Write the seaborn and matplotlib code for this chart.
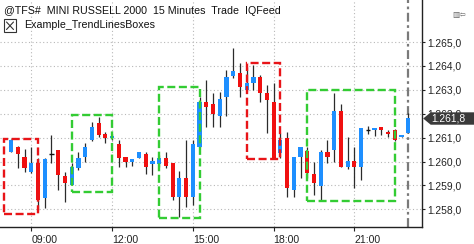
import numpy as np
import pandas as pd
import matplotlib
matplotlib.use("Agg")
import matplotlib.pyplot as plt
import matplotlib.transforms as mtransforms
from matplotlib.patches import Rectangle, Polygon
from matplotlib.lines import Line2D
from matplotlib.ticker import FuncFormatter
import seaborn as sns

# ---------------- data ----------------
opens = [1260.40, 1260.61, 1260.19, 1259.56, 1259.94, 1258.47, 1260.31, 1260.48, 1259.39, 1259.02,
         1259.73, 1260.19, 1260.90, 1261.61, 1261.15, 1260.98, 1260.73, 1260.19, 1259.98, 1260.15,
         1260.31, 1259.90, 1259.90, 1260.15, 1259.94, 1258.51, 1259.31, 1258.51, 1260.61, 1262.49,
         1262.41, 1261.90, 1262.70, 1263.58, 1263.70, 1262.99, 1263.28, 1263.54, 1262.87, 1262.49,
         1260.36, 1260.98, 1258.81, 1260.19, 1260.44, 1259.48, 1258.98, 1260.40, 1260.48, 1262.11,
         1259.77, 1260.02, 1259.77, 1261.32, 1261.32, 1261.44, 1261.23, 1261.32, 1261.02, 1261.19]
highs = [1260.95, 1260.65, 1260.52, 1260.61, 1260.15, 1260.15, 1261.11, 1260.50, 1259.56, 1259.94,
         1260.40, 1260.77, 1261.65, 1261.86, 1261.23, 1261.15, 1260.90, 1260.19, 1260.10, 1260.40,
         1260.40, 1260.19, 1260.27, 1260.40, 1259.94, 1259.60, 1260.90, 1260.90, 1262.70, 1263.41,
         1262.87, 1262.91, 1263.83, 1264.75, 1264.12, 1263.95, 1264.04, 1263.62, 1263.20, 1263.28,
         1261.19, 1261.23, 1260.19, 1260.61, 1260.61, 1259.98, 1260.48, 1260.90, 1262.87, 1262.41,
         1261.02, 1260.61, 1261.40, 1261.48, 1261.40, 1261.44, 1261.32, 1261.36, 1261.11, 1262.03]
lows = [1260.38, 1259.73, 1259.56, 1259.52, 1257.97, 1258.05, 1259.94, 1258.81, 1258.31, 1259.00,
        1259.65, 1259.98, 1260.86, 1261.02, 1260.77, 1260.90, 1259.77, 1259.77, 1259.81, 1260.15,
        1259.48, 1259.44, 1259.77, 1259.73, 1258.39, 1257.68, 1258.10, 1258.18, 1260.61, 1261.44,
        1261.44, 1261.44, 1261.90, 1263.49, 1262.70, 1262.95, 1262.99, 1262.49, 1261.19, 1260.15,
        1260.15, 1258.51, 1258.51, 1259.31, 1259.31, 1258.60, 1258.35, 1259.94, 1259.98, 1259.77,
        1259.69, 1258.89, 1259.23, 1261.15, 1261.07, 1261.11, 1261.02, 1260.86, 1261.02, 1261.19]
closes = [1260.90, 1260.31, 1259.73, 1259.94, 1258.39, 1260.10, 1260.31, 1259.44, 1259.10, 1259.77,
          1260.15, 1260.61, 1261.44, 1261.11, 1260.98, 1261.02, 1260.15, 1259.98, 1260.10, 1260.40,
          1259.77, 1260.02, 1260.15, 1259.81, 1258.51, 1259.31, 1258.51, 1260.73, 1262.49, 1262.28,
          1261.99, 1262.62, 1263.54, 1263.79, 1263.12, 1263.28, 1263.54, 1262.87, 1262.57, 1260.15,
          1260.90, 1258.89, 1260.19, 1260.61, 1259.52, 1259.10, 1260.40, 1260.19, 1262.11, 1259.77,
          1260.02, 1259.77, 1261.40, 1261.32, 1261.40, 1261.32, 1261.15, 1260.90, 1261.11, 1261.82]
first_bar_time = "08:15"
tick_labels = ["09:00", "12:00", "15:00", "18:00", "21:00"]
price_ticks = [1258.0, 1259.0, 1260.0, 1261.0, 1262.0, 1263.0, 1264.0, 1265.0]

box_start = ["08:00", "10:30", "13:45", "17:00", "19:15"]
box_end = ["09:15", "12:00", "15:15", "18:15", "22:30"]
box_top = [1260.93, 1261.95, 1263.10, 1264.11, 1262.99]
box_bottom = [1257.82, 1258.71, 1257.62, 1260.10, 1258.35]
box_kind = ["red", "green", "green", "red", "green"]

last_price = 1261.8
title = "@TFS#  MINI RUSSELL 2000  15 Minutes  Trade  IQFeed"
study_name = "Example_TrendLinesBoxes"

# ---------------- style ----------------
sns.set_theme(style="white")
plt.rcParams["font.family"] = ["Liberation Sans", "DejaVu Sans"]

W, H = 474, 244
fig = plt.figure(figsize=(W / 100, H / 100), dpi=100)
ax_right_px = 421.7
ax_bottom_px = 227
ax = fig.add_axes([0, 1 - ax_bottom_px / H, ax_right_px / W, ax_bottom_px / H])

day = "2015-01-05 "
t0 = pd.Timestamp(day + first_bar_time)
df = pd.DataFrame({"open": opens, "high": highs, "low": lows, "close": closes})
df["time"] = pd.date_range(t0, periods=len(df), freq="15min")
df["x"] = (df["time"] - t0) / pd.Timedelta("15min")

def tpos(s):
    return (pd.Timestamp(day + s) - t0) / pd.Timedelta("15min")

BLUE = "#1e8fff"
RED = "#f01010"
GREEN = "#33cc33"
BOXRED = "#e81418"
WICK = "#2b2b2b"

# wicks
ax.vlines(df["x"], df["low"], df["high"], color=WICK, lw=0.9, zorder=2)
# bodies
up = df["close"] > df["open"]
down = df["close"] < df["open"]
flat = df["close"] == df["open"]
body_w = 0.62
minh = 0.07
for mask, col in [(up, BLUE), (down, RED)]:
    sub = df[mask]
    bottom = np.minimum(sub["open"], sub["close"])
    height = np.maximum(np.abs(sub["close"] - sub["open"]), minh)
    ax.bar(sub["x"], height, bottom=bottom, width=body_w, color=col,
           edgecolor=col, linewidth=0, zorder=3)
sub = df[flat]
ax.hlines(sub["close"], sub["x"] - body_w / 2, sub["x"] + body_w / 2, color="#111111", lw=1.0, zorder=3)

# boxes
for s, e, top, bot, kind in zip(box_start, box_end, box_top, box_bottom, box_kind):
    col = GREEN if kind == "green" else BOXRED
    x0, x1 = tpos(s), tpos(e)
    ax.add_patch(Rectangle((x0, bot), x1 - x0, top - bot, fill=False, edgecolor=col,
                           lw=1.7, linestyle=(0, (3.4, 1.5)), zorder=4, clip_on=False))

# current bar dashed line
ax.axvline(df["x"].iloc[-1], color="#7a7a7a", lw=1.6, linestyle=(0, (4, 1.6, 1.2, 1.6)), zorder=1)

# axes limits
ax.set_xlim(-1.65, 61.0)
ax.set_ylim(1257.26, 1266.76)

# ticks
tick_pos = [df.loc[df["time"].dt.strftime("%H:%M") == lab, "x"].iloc[0] for lab in tick_labels]
ax.set_xticks(tick_pos)
ax.set_xticklabels(tick_labels, fontsize=7.6, color="#222222", ha="left")
offset = mtransforms.ScaledTranslation(2 / 100, 0, fig.dpi_scale_trans)
for lab in ax.get_xticklabels():
    lab.set_transform(lab.get_transform() + offset)

ax.yaxis.tick_right()
ax.set_yticks(price_ticks)
def fmt(v, pos):
    s = f"{v:,.1f}"
    return s.replace(",", "X").replace(".", ",").replace("X", ".")
ax.yaxis.set_major_formatter(FuncFormatter(fmt))
ax.tick_params(axis="y", labelsize=7.4, colors="#222222", length=2.5, width=0.8, pad=1.5,
               direction="out", right=True, left=False)
ax.tick_params(axis="x", length=3, width=0.8, pad=3, direction="out", bottom=True, colors="#222222")

ax.grid(True, which="major", color="#b8b8b8", lw=0.8, linestyle=(0, (1, 2.2)))
ax.set_axisbelow(True)
for side in ["left", "top"]:
    ax.spines[side].set_visible(False)
for side in ["right", "bottom"]:
    ax.spines[side].set_visible(True)
    ax.spines[side].set_color("#222222")
    ax.spines[side].set_linewidth(1.0)

# last price marker
trans = mtransforms.blended_transform_factory(ax.transAxes, ax.transData)
hh = 6.2 / 23.9
xa = 1 + 1.5 / ax_right_px
xb = 1 + 9 / ax_right_px
xc = W / ax_right_px
poly = Polygon([(xa, last_price), (xb, last_price + hh), (xc, last_price + hh),
                (xc, last_price - hh), (xb, last_price - hh)], closed=True,
               transform=trans, facecolor="#3a3a3a", edgecolor="none", clip_on=False, zorder=10)
ax.add_patch(poly)
ax.text(1 + 10 / ax_right_px, last_price, fmt(last_price, None), transform=trans,
        color="white", fontsize=7.4, va="center", ha="left", clip_on=False, zorder=11)

# header texts
fig.text(4 / W, 1 - 11.5 / H, title, fontsize=7.7, color="#111111", va="center", ha="left")
fig.add_artist(Rectangle((4 / W, 1 - 32 / H), 12 / W, 13 / H, transform=fig.transFigure,
                         fill=False, edgecolor="#333333", lw=0.8))
fig.add_artist(Line2D([6.5 / W, 13.5 / W], [1 - 22 / H, 1 - 29.5 / H], transform=fig.transFigure,
                      color="#333333", lw=0.8))
fig.add_artist(Line2D([6.5 / W, 13.5 / W], [1 - 29.5 / H, 1 - 22 / H], transform=fig.transFigure,
                      color="#333333", lw=0.8))
fig.text(24 / W, 1 - 25.5 / H, study_name, fontsize=7.7, color="#111111", va="center", ha="left")
fig.text(452 / W, 1 - 15 / H, "\u25a5\u21e6", fontsize=5.5, color="#666666", va="center", ha="left",
         family=["DejaVu Sans"])

fig.savefig("out.png", dpi=100, facecolor="white")
